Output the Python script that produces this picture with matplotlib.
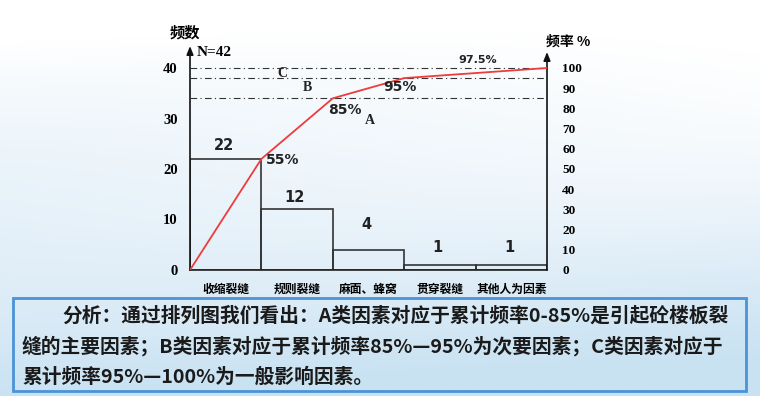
import numpy as np
import matplotlib
matplotlib.use("Agg")
import matplotlib.pyplot as plt
from matplotlib.colors import LinearSegmentedColormap

plt.rcParams['font.family'] = ['Noto Sans CJK SC', 'DejaVu Sans']

# ---- data ----
categories = ["收缩裂缝", "规则裂缝", "麻面、蜂窝", "贯穿裂缝", "其他人为因素"]
counts = [22, 12, 4, 1, 1]
cum_pct = [0, 55, 85, 95, 97.5, 100]
cum_labels = ["", "55%", "85%", "95%", "97.5%", ""]
ref_levels = [85, 95, 100]
count_ticks = [0, 10, 20, 30, 40]
pct_ticks = [0, 10, 20, 30, 40, 50, 60, 70, 80, 90, 100]
note_lines = [
    "分析：通过排列图我们看出：A类因素对应于累计频率0-85%是引起砼楼板裂",
    "缝的主要因素；B类因素对应于累计频率85%—95%为次要因素；C类因素对应于",
    "累计频率95%—100%为一般影响因素。",
]

W, H = 760, 396
fig = plt.figure(figsize=(W / 100, H / 100), dpi=100)

# background gradient
bg = fig.add_axes([0, 0, 1, 1])
bg.set_axis_off()
yy = np.linspace(0, 1, 200)[:, None]
xx = np.linspace(0, 1, 200)[None, :]
grad = np.clip((yy * 1.2 - 0.18) + 0.09 * np.sin(6 * (yy * 1.0 + xx * 0.35)), 0, 1)
cmap = LinearSegmentedColormap.from_list("sky", ["#ffffff", "#e4f0f9", "#c9e2f2"])
bg.imshow(grad, cmap=cmap, aspect="auto", extent=[0, 1, 1, 0], vmin=0, vmax=1)
bg.set_xlim(0, 1)
bg.set_ylim(1, 0)


def px_rect(x0, y0, x1, y1):
    return [x0 / W, (H - y1) / H, (x1 - x0) / W, (y1 - y0) / H]


ax_top_px, base_px, top40_px = 46, 270, 68
ax = fig.add_axes(px_rect(190, ax_top_px, 547, base_px))
ax.patch.set_alpha(0)
cmax = 40 * (base_px - ax_top_px) / (base_px - top40_px)
ax.set_xlim(0, 5)
ax.set_ylim(0, cmax)
for s in ["top", "right", "left"]:
    ax.spines[s].set_visible(False)
ax.spines["bottom"].set_color("#222222")
ax.spines["bottom"].set_linewidth(1.2)

x = np.arange(len(counts))
ax.bar(x + 0.5, counts, width=1.0, facecolor="none", edgecolor="#333333", linewidth=1.2)

ax.set_yticks(count_ticks)
ax.set_yticklabels([str(t) for t in count_ticks], family="Liberation Serif",
                   fontweight="bold", fontsize=10.5)
ax.tick_params(axis="y", length=0, pad=9)
ax.set_xticks(x + 0.5)
ax.set_xticklabels(categories, fontsize=8.5, fontweight="bold")
ax.tick_params(axis="x", length=0, pad=9)

bar_offsets = [4, 3, 13, 7, 7]
for i, (c, off) in enumerate(zip(counts, bar_offsets)):
    ax.annotate(str(c), (i + 0.5 - 0.03, c), xytext=(0, off), textcoords="offset points",
                ha="center", va="bottom", fontsize=10.5, fontweight="bold",
                family="DejaVu Sans", color="#222222")

# axis arrows
arrow = dict(arrowstyle="-|>,head_length=0.5,head_width=0.2", color="#111111", lw=1.2,
             shrinkA=0, shrinkB=0)
ax.annotate("", xy=(0, 1), xytext=(0, 0), xycoords="axes fraction", arrowprops=arrow)
ax.annotate("", xy=(1, (base_px - 52) / (base_px - ax_top_px)), xytext=(1, 0),
            xycoords="axes fraction", arrowprops=arrow)

# cumulative percentage axis
ax2 = ax.twinx()
ax2.set_ylim(0, 100 * cmax / 40)
for s in ax2.spines.values():
    s.set_visible(False)
ax2.set_yticks(pct_ticks)
ax2.set_yticklabels([str(t) for t in pct_ticks], family="Liberation Serif",
                    fontweight="bold", fontsize=9.5)
ax2.tick_params(axis="y", length=0, pad=11)

for lv in ref_levels:
    ax2.plot([0, 5], [lv, lv], color="#333333", lw=0.8, ls=(0, (6, 3, 1, 3)))

ax2.plot(np.arange(len(cum_pct)), cum_pct, color="#ee3b3b", lw=1.3)

label_pos = {"55%": (1.3, 54.5), "85%": (2.17, 79), "95%": (2.94, 90.5), "97.5%": (4.03, 104)}
for lab in cum_labels:
    if lab:
        px, py = label_pos[lab]
        ax2.text(px, py, lab, ha="center", va="center", family="DejaVu Sans",
                 fontweight="bold", fontsize=10 if lab != "97.5%" else 8, color="#222222")

for letter, (px, py) in {"C": (1.3, 97.5), "B": (1.65, 90.5), "A": (2.52, 74)}.items():
    ax2.text(px, py, letter, ha="center", va="center", family="Liberation Serif",
             fontweight="bold", fontsize=10, color="#222222")

# axis titles
fig.text(185 / W, 1 - 33 / H, "频数", ha="center", va="center", fontsize=11, fontweight="bold")
fig.text(197 / W, 1 - 52 / H, "N=42", ha="left", va="center", family="Liberation Serif",
         fontsize=11, fontweight="bold")
fig.text(568 / W, 1 - 42 / H, "频率 %", ha="center", va="center", fontsize=10, fontweight="bold")

# analysis note box
box = plt.Rectangle((13 / W, 1 - 391 / H), (746 - 13) / W, (391 - 298) / H,
                    transform=fig.transFigure, facecolor="none", edgecolor="#4b93d6", lw=2)
fig.add_artist(box)
line_y = [316, 346, 377]
line_x = [62, 22, 22]
for t, ly, lx in zip(note_lines, line_y, line_x):
    fig.text(lx / W, 1 - ly / H, t, ha="left", va="center", fontsize=14.2,
             fontweight="bold", color="#1a1a1a")

fig.savefig("out.png", dpi=100)
